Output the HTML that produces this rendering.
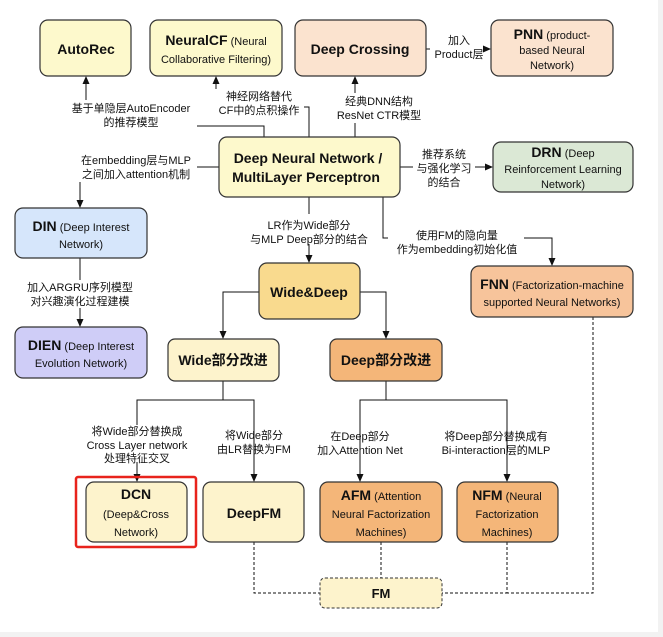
<!DOCTYPE html>
<html><head><meta charset="utf-8"><style>
body{margin:0;background:#fff}
svg{display:block;font-family:"Liberation Sans","Noto Sans CJK SC",sans-serif}
.b{stroke:#333;stroke-width:1.2}
.l{stroke:#111;stroke-width:1;fill:none}
.d{stroke:#111;stroke-width:1;fill:none;stroke-dasharray:3,2}
text{fill:#111;text-anchor:middle}
.t{font-size:11px}
.h{font-size:14px;font-weight:bold}
</style></head><body>
<svg width="663" height="637" viewBox="0 0 663 637">
<defs><marker id="a" markerWidth="8" markerHeight="8" refX="7" refY="4" orient="auto" markerUnits="userSpaceOnUse"><path d="M0,0.5 L8,4 L0,7.5 Z" fill="#111"/></marker></defs>
<rect x="0" y="0" width="663" height="637" fill="#fff"/>
<rect x="658" y="0" width="5" height="637" fill="#f2f2f2"/>
<rect x="0" y="632" width="663" height="5" fill="#f2f2f2"/>
<!-- connectors -->
<path class="l" d="M264,137 V126 H197"/><path class="l" d="M86,100 V77" marker-end="url(#a)"/>
<path class="l" d="M309,137 V107 H304"/><path class="l" d="M216,89 V77" marker-end="url(#a)"/>
<path class="l" d="M355,137 V123"/><path class="l" d="M355,93 V77" marker-end="url(#a)"/>
<path class="l" d="M426,49 H430"/><path class="l" d="M487,49 H490" marker-end="url(#a)"/>
<path class="l" d="M400,167 H413"/><path class="l" d="M475,167 H492" marker-end="url(#a)"/>
<path class="l" d="M219,167 H197"/><path class="l" d="M80,182 V207" marker-end="url(#a)"/>
<path class="l" d="M80,258 V280"/><path class="l" d="M80,308 V326" marker-end="url(#a)"/>
<path class="l" d="M309,197 V214"/><path class="l" d="M309,244 V262" marker-end="url(#a)"/>
<path class="l" d="M383,197 V238 H388"/><path class="l" d="M524,238 H552 V265" marker-end="url(#a)"/>
<path class="l" d="M259,292 H223 V338" marker-end="url(#a)"/><path class="l" d="M360,292 H386 V338" marker-end="url(#a)"/>
<path class="l" d="M223,381 V400 H137 V425"/><path class="l" d="M137,462 V481" marker-end="url(#a)"/>
<path class="l" d="M223,400 H254 V481" marker-end="url(#a)"/>
<path class="l" d="M386,381 V400 H360 V481" marker-end="url(#a)"/>
<path class="l" d="M386,400 H507 V481" marker-end="url(#a)"/>
<path class="d" d="M254,542 V593 H320"/><path class="d" d="M381,542 V578"/>
<path class="d" d="M507,542 V593 H442"/><path class="d" d="M593,317 V593 H507"/>
<!-- boxes -->
<rect class="b" x="40" y="20" width="91" height="56" rx="8" fill="#fdf9cc"/>
<text class="h" x="86" y="54">AutoRec</text>
<rect class="b" x="150" y="20" width="132" height="56" rx="8" fill="#fdf9cc"/>
<text x="216" y="45"><tspan class="h">NeuralCF</tspan><tspan class="t"> (Neural</tspan></text>
<text class="t" x="216" y="63">Collaborative Filtering)</text>
<rect class="b" x="295" y="20" width="131" height="56" rx="8" fill="#fbe3cf"/>
<text class="h" x="360" y="54">Deep Crossing</text>
<rect class="b" x="491" y="20" width="122" height="56" rx="8" fill="#fbe3cf"/>
<text x="552" y="39"><tspan class="h">PNN</tspan><tspan class="t"> (product-</tspan></text>
<text class="t" x="552" y="54">based Neural</text><text class="t" x="552" y="69">Network)</text>
<rect class="b" x="219" y="137" width="181" height="60" rx="8" fill="#fdf9cc"/>
<text class="h" x="308" y="163">Deep Neural Network /</text>
<text class="h" x="306" y="182">MultiLayer Perceptron</text>
<rect class="b" x="493" y="142" width="140" height="50" rx="8" fill="#dbe8d5"/>
<text x="563" y="157"><tspan class="h">DRN</tspan><tspan class="t"> (Deep</tspan></text>
<text class="t" x="563" y="173">Reinforcement Learning</text><text class="t" x="563" y="188">Network)</text>
<rect class="b" x="15" y="208" width="132" height="50" rx="8" fill="#d6e6fb"/>
<text x="81" y="231"><tspan class="h">DIN</tspan><tspan class="t"> (Deep Interest</tspan></text>
<text class="t" x="81" y="248">Network)</text>
<rect class="b" x="259" y="263" width="101" height="56" rx="8" fill="#f9da8e"/>
<text class="h" x="309" y="297">Wide&amp;Deep</text>
<rect class="b" x="471" y="266" width="162" height="51" rx="8" fill="#f7c49b"/>
<text x="552" y="289"><tspan class="h">FNN</tspan><tspan class="t"> (Factorization-machine</tspan></text>
<text class="t" x="552" y="306">supported Neural Networks)</text>
<rect class="b" x="15" y="327" width="132" height="51" rx="8" fill="#cfcdf7"/>
<text x="81" y="350"><tspan class="h">DIEN</tspan><tspan class="t"> (Deep Interest</tspan></text>
<text class="t" x="81" y="367">Evolution Network)</text>
<rect class="b" x="168" y="339" width="111" height="42" rx="7" fill="#fdf3cc"/>
<text class="h" x="223" y="365">Wide部分改进</text>
<rect class="b" x="330" y="339" width="112" height="42" rx="7" fill="#f4b679"/>
<text class="h" x="386" y="365">Deep部分改进</text>
<rect x="76" y="477" width="120" height="70" fill="none" stroke="#e8231c" stroke-width="2.5" rx="2"/>
<rect class="b" x="86" y="482" width="101" height="60" rx="8" fill="#fdf3cc"/>
<text class="h" x="136" y="499">DCN</text>
<text class="t" x="136" y="518">(Deep&amp;Cross</text><text class="t" x="136" y="536">Network)</text>
<rect class="b" x="203" y="482" width="101" height="60" rx="8" fill="#fdf3cc"/>
<text class="h" x="254" y="518">DeepFM</text>
<rect class="b" x="320" y="482" width="122" height="60" rx="8" fill="#f4b679"/>
<text x="381" y="500"><tspan class="h">AFM</tspan><tspan class="t"> (Attention</tspan></text>
<text class="t" x="381" y="518">Neural Factorization</text><text class="t" x="381" y="536">Machines)</text>
<rect class="b" x="457" y="482" width="101" height="60" rx="8" fill="#f4b679"/>
<text x="507" y="500"><tspan class="h">NFM</tspan><tspan class="t"> (Neural</tspan></text>
<text class="t" x="507" y="518">Factorization</text><text class="t" x="507" y="536">Machines)</text>
<rect x="320" y="578" width="122" height="30" rx="5" fill="#fdf3cc" stroke="#333" stroke-width="1" stroke-dasharray="3,2"/>
<text class="h" x="381" y="598" style="font-size:13px">FM</text>
<!-- labels -->
<text class="t" x="131" y="112">基于单隐层AutoEncoder</text><text class="t" x="131" y="126">的推荐模型</text>
<text class="t" x="259" y="100">神经网络替代</text><text class="t" x="259" y="114">CF中的点积操作</text>
<text class="t" x="379" y="105">经典DNN结构</text><text class="t" x="379" y="119">ResNet CTR模型</text>
<text class="t" x="459" y="44">加入</text><text class="t" x="459" y="58">Product层</text>
<text class="t" x="444" y="158">推荐系统</text><text class="t" x="444" y="172">与强化学习</text><text class="t" x="444" y="186">的结合</text>
<text class="t" x="136" y="164">在embedding层与MLP</text><text class="t" x="136" y="178">之间加入attention机制</text>
<text class="t" x="309" y="229">LR作为Wide部分</text><text class="t" x="309" y="243">与MLP Deep部分的结合</text>
<text class="t" x="457" y="239">使用FM的隐向量</text><text class="t" x="457" y="253">作为embedding初始化值</text>
<text class="t" x="80" y="291">加入ARGRU序列模型</text><text class="t" x="80" y="305">对兴趣演化过程建模</text>
<text class="t" x="137" y="435">将Wide部分替换成</text><text class="t" x="137" y="449">Cross Layer network</text><text class="t" x="137" y="462">处理特征交叉</text>
<text class="t" x="254" y="439">将Wide部分</text><text class="t" x="254" y="453">由LR替换为FM</text>
<text class="t" x="360" y="440">在Deep部分</text><text class="t" x="360" y="454">加入Attention Net</text>
<text class="t" x="496" y="440">将Deep部分替换成有</text><text class="t" x="496" y="454">Bi-interaction层的MLP</text>
</svg>
</body></html>
